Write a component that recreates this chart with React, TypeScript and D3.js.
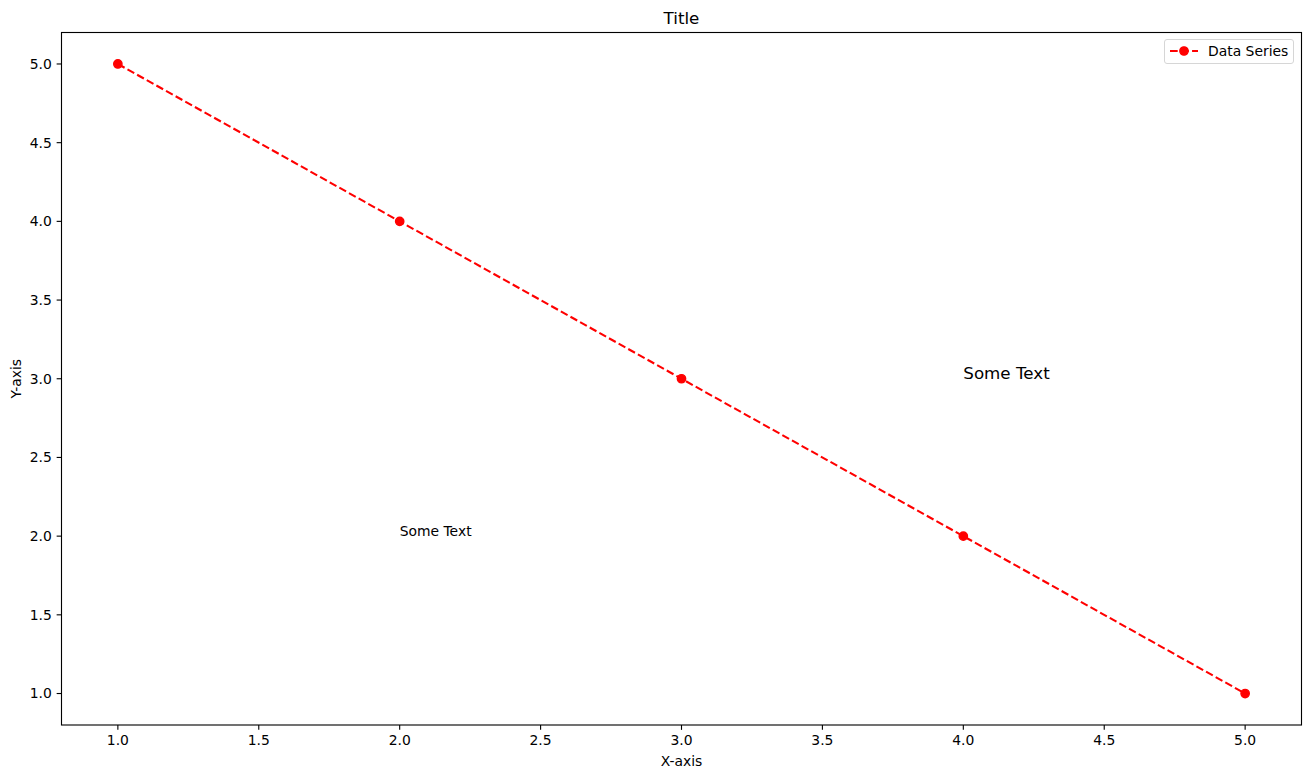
import React from "react";
import * as d3 from "d3";

const xValues = [1, 2, 3, 4, 5];
const yValues = [5, 4, 3, 2, 1];
const xTicks = [1.0, 1.5, 2.0, 2.5, 3.0, 3.5, 4.0, 4.5, 5.0];
const yTicks = [1.0, 1.5, 2.0, 2.5, 3.0, 3.5, 4.0, 4.5, 5.0];
const annotations = [
  { x: 2, y: 2, text: "Some Text", size: 13.9 },
  { x: 4, y: 3, text: "Some Text", size: 16.7 },
];
const seriesName = "Data Series";
const title = "Title";
const xLabel = "X-axis";
const yLabel = "Y-axis";

const W = 1311;
const H = 778;
const left = 61.5;
const right = 1301.5;
const top = 32.5;
const bottom = 725;
const FONT = "DejaVu Sans, sans-serif";
const RED = "#ff0000";

export default function App() {
  const x = d3.scaleLinear().domain([0.8, 5.2]).range([left, right]);
  const y = d3.scaleLinear().domain([0.8, 5.2]).range([bottom, top]);
  const pts = xValues.map((v, i) => [v, yValues[i]] as [number, number]);
  const line = d3
    .line<[number, number]>()
    .x((d) => x(d[0]))
    .y((d) => y(d[1]));
  const tickLen = 4.86;
  const fs = 13.9;
  const dash = "7.7 3.33";

  return (
    <div style={{ position: "fixed", left: 0, top: 0 }}>
      <svg width={W} height={H} style={{ display: "block", background: "#fff" }} fontFamily={FONT}>
        <rect x={0} y={0} width={W} height={H} fill="#fff" />
        <path d={line(pts) || ""} fill="none" stroke={RED} strokeWidth={2.08} strokeDasharray={dash} />
        {pts.map((p, i) => (
          <circle key={i} cx={x(p[0])} cy={y(p[1])} r={4.17} fill={RED} stroke={RED} strokeWidth={1.39} />
        ))}
        {annotations.map((a, i) => (
          <text key={i} x={x(a.x)} y={y(a.y)} fontSize={a.size} fill="#000">
            {a.text}
          </text>
        ))}
        <rect x={left} y={top} width={right - left} height={bottom - top} fill="none" stroke="#000" strokeWidth={1.11} />
        {xTicks.map((t) => (
          <g key={"x" + t}>
            <line x1={x(t)} x2={x(t)} y1={bottom} y2={bottom + tickLen} stroke="#000" strokeWidth={1.11} />
            <text x={x(t)} y={bottom + tickLen + 4.86 + 10.5} fontSize={fs} textAnchor="middle" fill="#000">
              {t.toFixed(1)}
            </text>
          </g>
        ))}
        {yTicks.map((t) => (
          <g key={"y" + t}>
            <line x1={left - tickLen} x2={left} y1={y(t)} y2={y(t)} stroke="#000" strokeWidth={1.11} />
            <text x={left - tickLen - 4.86} y={y(t)} dy="0.35em" fontSize={fs} textAnchor="end" fill="#000">
              {t.toFixed(1)}
            </text>
          </g>
        ))}
        <text x={(left + right) / 2} y={24} fontSize={16.7} textAnchor="middle" fill="#000">
          {title}
        </text>
        <text x={(left + right) / 2} y={766} fontSize={fs} textAnchor="middle" fill="#000">
          {xLabel}
        </text>
        <text
          transform={`translate(21,${(top + bottom) / 2}) rotate(-90)`}
          fontSize={fs}
          textAnchor="middle"
          fill="#000"
        >
          {yLabel}
        </text>
        <g>
          <rect x={1164.5} y={39.5} width={129} height={24} rx={2.5} fill="#fff" fillOpacity={0.8} stroke="#d6d6d6" strokeWidth={1} />
          <line x1={1170} x2={1198} y1={51} y2={51} stroke={RED} strokeWidth={2.08} strokeDasharray={dash} />
          <circle cx={1184} cy={51} r={4.17} fill={RED} stroke={RED} strokeWidth={1.39} />
          <text x={1208} y={51} dy="0.35em" fontSize={fs} fill="#000">
            {seriesName}
          </text>
        </g>
      </svg>
    </div>
  );
}
